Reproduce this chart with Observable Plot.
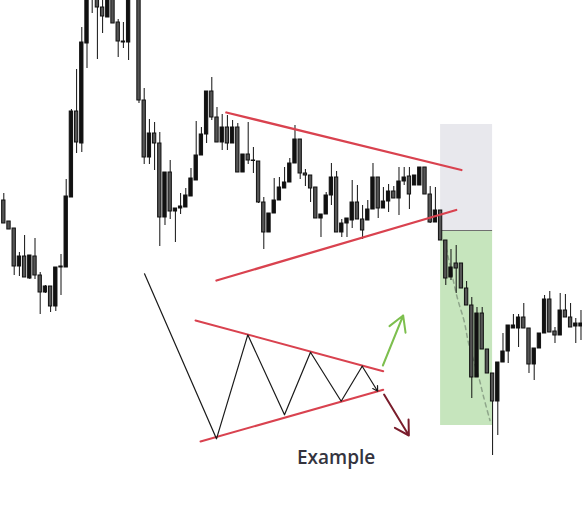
<!DOCTYPE html>
<html><head><meta charset="utf-8">
<script src="https://cdn.jsdelivr.net/npm/d3@7"></script>
<script src="https://cdn.jsdelivr.net/npm/@observablehq/plot@0.6"></script>
<style>html,body{margin:0;padding:0;background:#fff}#chart svg{display:block}</style>
</head><body><div id="chart"></div>
<script>
// Candlestick prices (arbitrary price units)
const opens  = [800,779,772,734,744,722,744,725,708,714,694,733,733,803,889,857,957,1040,1025,993,983,1010,978,959,958,1020,1035,900,843,867,857,783,828,789,792,793,804,820,845,866,909,883,858,873,857,873,828,846,840,839,798,768,787,800,812,818,837,861,827,825,813,782,786,805,823,768,777,780,798,781,780,791,823,792,799,809,802,819,824,815,815,833,806,778,790,760,723,737,737,712,695,623,687,651,627,599,638,649,672,672,683,672,636,652,667,701,669,665,690,683,674,674];
const closes = [777,771,734,744,723,745,725,708,714,694,733,734,804,889,858,958,1015,1020,993,984,1005,977,959,958,1020,1035,900,843,867,857,783,828,789,792,794,805,822,845,866,909,883,858,873,857,873,828,846,840,839.5,798,768,787,800,813,818,837,861,827,825,812,782,786,805,823,768,777,782,798,781,770,791,823,792,799,809,802,819,823,806,825,833,806,778,790,760,722,733,732,712,695,623,687,651,627,599,638,649,675,675,683,672,636,652,667,701,668,665,690,683,673,677,677];
const highs  = [807,779,772,748,765,745,762,728,715,714,733,746,821,891,931,973,1030,1050,1035,1005,1010,1015,981,978,1030,1045,1040,912,881,878,868,828,840,792,807,812,832,879,873,909,923,893,886,885,880,877,846,878,853,839,803,787,822,823,833,842,875,861,831,825,813,786,808,837,829,781,782,820,815,795,800,837,823,813,816,814,833,833,833,825,833,833,814,813,790,760,751,755,737,719,703,693,693,651,627,638,667,675,686,686,697,672,652,667,705,709,673,707,706,697,682,690];
const lows   = [777,771,725,724,723,721,721,686,707,688,689,705,733,803,847,848,932,987,941,967,983,977,943,952,940,1005,897,836,836,830,754,775,781,758,786,793,804,820,845,857,880,858,850,850,857,828,828,836,827,797,751,768,787,800,812,818,837,821,814,798,782,763,786,795,768,763,763,772,781,761,780,791,782,792,788,802,785,815,791,815,815,806,777,778,760,715,720,707,712,695,602,623,651,627,545,565,638,637,672,653,672,627,620,652,667,668,657,665,683,673,657,660];

// Annotation data (candle index, price)
const triangleTop    = [{x: 42.8, y: 888}, {x: 88.0, y: 830.5}];
const triangleBottom = [{x: 40.9, y: 720}, {x: 87.0, y: 790.5}];
const stopZone   = {x1: 84, x2: 94, y1: 770, y2: 876};
const targetZone = {x1: 84, x2: 94, y1: 575, y2: 770};
const pathDashed = [{x:84.5,y:760},{x:84.9,y:755},{x:87.2,y:703},{x:88.5,y:680},{x:89.4,y:657},{x:91.35,y:623},{x:92.3,y:603},{x:93.5,y:580}];
const exampleZig = [{x:27.06,y:726.7},{x:40.9,y:561.7},{x:46.92,y:665.7},{x:53.98,y:585.7},{x:58.98,y:648.3},{x:64.88,y:599.3},{x:68.92,y:634.3}];
const exampleZigEnd = {x1:68.92, y1:634.3, x2:71.9, y2:609.3};
const exampleTop    = [{x:36.87,y:680},{x:72.96,y:629.3}];
const exampleBottom = [{x:37.83,y:559},{x:72.96,y:610.7}];
const arrowUp   = {x1:72.9, y1:635, x2:76.8, y2:685};
const arrowDown = {x1:73.13, y1:606, x2:77.9, y2:565};
const exampleLabel = {x: 63.9, y: 543, text: "Example"};

const candles = opens.map((o, i) => ({i, open: o, close: closes[i], high: highs[i], low: lows[i]}));
const up = candles.filter(d => d.close >= d.open);
const down = candles.filter(d => d.close < d.open);
const red = "#d9424f";
const hw = 0.32;

const chart = Plot.plot({
  width: 582, height: 523, margin: 0,
  x: {domain: [-0.635, 111.29], axis: null},
  y: {domain: [477, 1000], axis: null},
  marks: [
    Plot.rect([stopZone], {x1: "x1", x2: "x2", y1: "y1", y2: "y2", fill: "#e8e8ed"}),
    Plot.rect([targetZone], {x1: "x1", x2: "x2", y1: "y1", y2: "y2", fill: "#c6e5bd"}),
    Plot.ruleY([stopZone], {y: "y1", x1: "x1", x2: "x2", stroke: "#6f6f6f", strokeWidth: 1}),
    Plot.line(pathDashed, {x: "x", y: "y", stroke: "#8ea58a", strokeWidth: 1.5, strokeDasharray: "4,4", curve: "catmull-rom"}),
    Plot.ruleX(candles, {x: "i", y1: "low", y2: "high", stroke: "#111", strokeWidth: 1, clip: true}),
    Plot.rect(down, {x1: d => d.i - hw, x2: d => d.i + hw, y1: "open", y2: "close", fill: "#555", stroke: "#111", strokeWidth: 1, clip: true}),
    Plot.rect(up, {x1: d => d.i - hw, x2: d => d.i + hw, y1: "open", y2: "close", fill: "#111", stroke: "#111", strokeWidth: 1, clip: true}),
    Plot.line(triangleTop, {x: "x", y: "y", stroke: red, strokeWidth: 2.3}),
    Plot.line(triangleBottom, {x: "x", y: "y", stroke: red, strokeWidth: 2.3}),
    Plot.line(exampleTop, {x: "x", y: "y", stroke: red, strokeWidth: 2}),
    Plot.line(exampleBottom, {x: "x", y: "y", stroke: red, strokeWidth: 2}),
    Plot.line(exampleZig, {x: "x", y: "y", stroke: "#1a1a1a", strokeWidth: 1.2}),
    Plot.arrow([exampleZigEnd], {x1: "x1", y1: "y1", x2: "x2", y2: "y2", stroke: "#1a1a1a", strokeWidth: 1.2, headLength: 7}),
    Plot.arrow([arrowUp], {x1: "x1", y1: "y1", x2: "x2", y2: "y2", stroke: "#7dbf4e", strokeWidth: 2, headLength: 13}),
    Plot.arrow([arrowDown], {x1: "x1", y1: "y1", x2: "x2", y2: "y2", stroke: "#7a1d2c", strokeWidth: 2, headLength: 13}),
    Plot.text([exampleLabel], {x: "x", y: "y", text: "text", fontSize: 19, fontWeight: 600, fill: "#34343e", fontFamily: "Open Sans"})
  ]
});
document.getElementById("chart").append(chart);
</script>
</body></html>
